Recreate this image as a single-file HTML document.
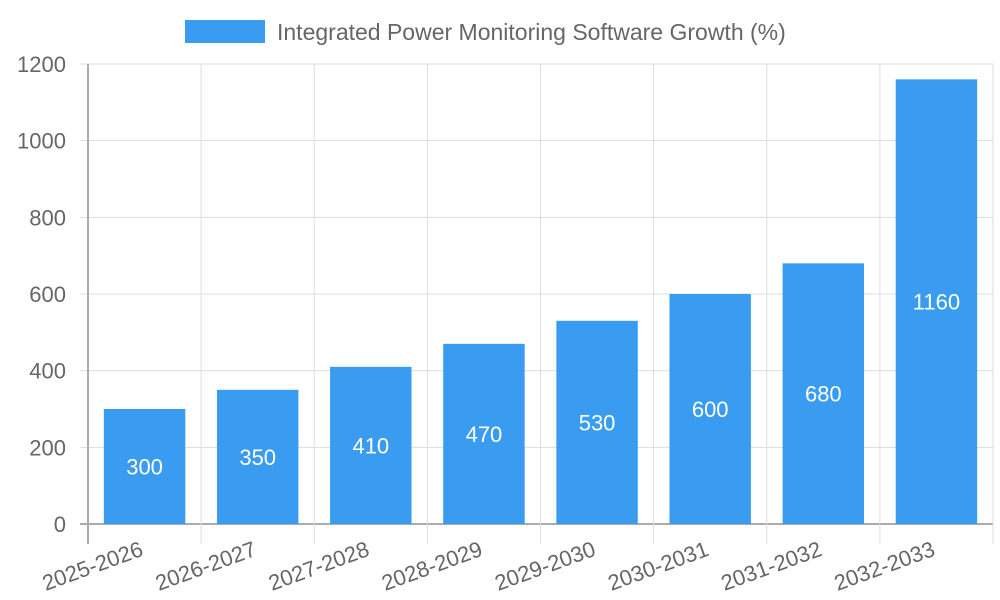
<!DOCTYPE html>
<html><head><meta charset="utf-8"><style>
body{margin:0;background:#fff;}
svg{display:block;font-family:"Liberation Sans",sans-serif;}
</style></head><body>
<svg id="chart" width="1000" height="600">
<g>
<rect x="185" y="20" width="80" height="23" fill="#399cf0"/>
<text x="277" y="40" font-size="23" fill="#666">Integrated Power Monitoring Software Growth (%)</text>
</g>
<g id="grid"></g><g id="bars"></g><g id="labels"></g>
</svg>
<script>
const categories=["2025-2026","2026-2027","2027-2028","2028-2029","2029-2030","2030-2031","2031-2032","2032-2033"];
const values=[300,350,410,470,530,600,680,1160];
const yTicks=[0,200,400,600,800,1000,1200];
const X0=88,X1=993,Y0=524,Y1=64,YMAX=1200;
const bw=(X1-X0)/categories.length;
const y=v=>Y0-(v/YMAX)*(Y0-Y1);
const x=i=>X0+i*bw;
const NS="http://www.w3.org/2000/svg";
function mk(tag,attrs,parent,text){const e=document.createElementNS(NS,tag);for(const k in attrs)e.setAttribute(k,attrs[k]);if(text!==undefined)e.textContent=text;document.getElementById(parent).appendChild(e);return e;}
yTicks.forEach(t=>{
 const l=mk('line',{x1:80,x2:X1,y1:y(t),y2:y(t),stroke:t===0?'#aaa':'#ddd','stroke-width':t===0?2:1},'grid');
 
 
 const tx=mk('text',{x:66,y:y(t)+8,'text-anchor':'end','font-size':22,fill:'#666'},'labels',String(t));
 
 
});
for(let i=0;i<=categories.length;i++){
 const l=mk('line',{x1:x(i),x2:x(i),y1:Y1,y2:544,stroke:i===0?'#aaa':'#ddd','stroke-width':i===0?2:1},'grid');
 
 
}
categories.forEach((c,i)=>{
 const w=bw*0.72,cx=x(i)+bw/2;
 const r=mk('rect',{x:cx-w/2,y:y(values[i]),width:w,height:Y0-y(values[i]),fill:'#399cf0'},'bars');
 
 
 const v=mk('text',{x:cx,y:(y(values[i])+Y0)/2+8,'text-anchor':'middle','font-size':22,fill:'#fff'},'labels',String(values[i]));
 
 
 const t=mk('text',{x:cx,y:555,'text-anchor':'end','font-size':22,fill:'#666',transform:`rotate(-20 ${cx} 555)`},'labels',c);
 
 
});
</script>
</body></html>
